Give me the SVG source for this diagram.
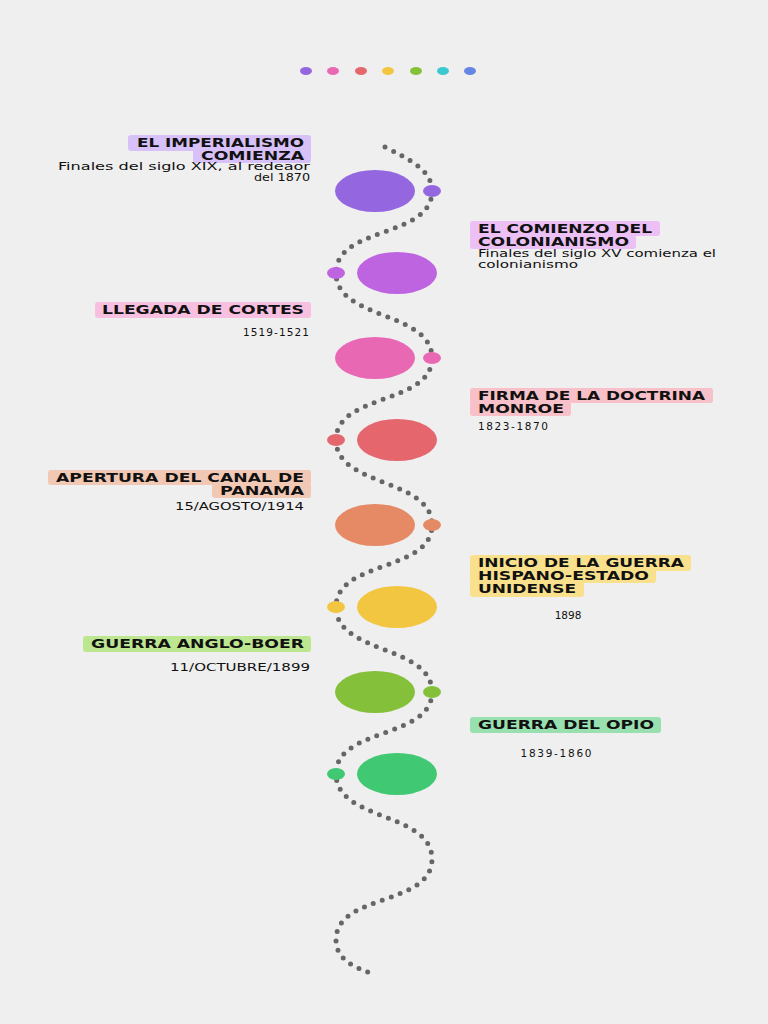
<svg xmlns="http://www.w3.org/2000/svg" width="768" height="1024" viewBox="0 0 768 1024">
<style>
.t{font-family:"DejaVu Sans",sans-serif;font-weight:bold;font-size:12.5px;fill:#111}
.s{font-family:"DejaVu Sans",sans-serif;font-size:11px;fill:#111}
.d{font-family:"DejaVu Sans",sans-serif;font-size:10.5px;fill:#111}
.r{text-anchor:end}
.m{text-anchor:middle}
</style>
<rect width="768" height="1024" fill="#efefef"/>
<g id="dots">
<ellipse cx="306" cy="71" rx="6" ry="4" fill="#9466e0"/>
<ellipse cx="333" cy="71" rx="6" ry="4" fill="#e868b4"/>
<ellipse cx="361" cy="71" rx="6" ry="4" fill="#e6666e"/>
<ellipse cx="388" cy="71" rx="6" ry="4" fill="#f2c640"/>
<ellipse cx="416" cy="71" rx="6" ry="4" fill="#84c03a"/>
<ellipse cx="443" cy="71" rx="6" ry="4" fill="#3cc8d0"/>
<ellipse cx="470" cy="71" rx="6" ry="4" fill="#6686e6"/>
</g>
<g id="connectors">
<path d="M385,147 C410,160 432,170 432,191 C432,238 336,226 336,273 C336,320 432,311 432,358 C432,405 336,393 336,440 C336,487 432,478 432,525 C432,572 336,560 336,607 C336,654 432,645 432,692 C432,739 336,727 336,774 C336,821 432,812 432,859 C432,906 336,893 336,940 C336,960 355,968 376,975" fill="none" stroke="#666" stroke-width="5" stroke-linecap="round" stroke-dasharray="0 9.5"/>
</g>
<g id="n1"><ellipse cx="375" cy="191" rx="40" ry="21" fill="#9466e0"/><ellipse cx="432" cy="191" rx="9" ry="6" fill="#9466e0"/>
<rect x="128" y="135" width="183" height="16" rx="3" fill="#d8c0f8"/><rect x="193" y="148" width="118" height="15" rx="3" fill="#d8c0f8"/>
<text class="t r" x="304" y="147" textLength="167" lengthAdjust="spacingAndGlyphs">EL IMPERIALISMO</text><text class="t r" x="304" y="160" textLength="103" lengthAdjust="spacingAndGlyphs">COMIENZA</text>
<text class="s r" x="310" y="170" textLength="252" lengthAdjust="spacingAndGlyphs">Finales del siglo XIX, al redeaor</text><text class="s r" x="310" y="181" textLength="56" lengthAdjust="spacingAndGlyphs">del 1870</text></g>
<g id="n2"><ellipse cx="397" cy="273" rx="40" ry="21" fill="#bf64e0"/><ellipse cx="336" cy="273" rx="9" ry="6" fill="#bf64e0"/>
<rect x="470" y="221" width="190" height="15" rx="3" fill="#ecc0f5"/><rect x="470" y="234" width="166" height="15" rx="3" fill="#ecc0f5"/>
<text class="t" x="478" y="233" textLength="174" lengthAdjust="spacingAndGlyphs">EL COMIENZO DEL</text><text class="t" x="478" y="246" textLength="151" lengthAdjust="spacingAndGlyphs">COLONIANISMO</text>
<text class="s" x="478" y="257" textLength="238" lengthAdjust="spacingAndGlyphs">Finales del siglo XV comienza el</text><text class="s" x="478" y="268" textLength="100" lengthAdjust="spacingAndGlyphs">colonianismo</text></g>
<g id="n3"><ellipse cx="375" cy="358" rx="40" ry="21" fill="#e868b4"/><ellipse cx="432" cy="358" rx="9" ry="6" fill="#e868b4"/>
<rect x="95" y="302" width="216" height="16" rx="3" fill="#f8c0e0"/>
<text class="t r" x="304" y="314" textLength="202" lengthAdjust="spacingAndGlyphs">LLEGADA DE CORTES</text>
<text class="d r" x="309" y="336" textLength="66">1519-1521</text></g>
<g id="n4"><ellipse cx="397" cy="440" rx="40" ry="21" fill="#e6666e"/><ellipse cx="336" cy="440" rx="9" ry="6" fill="#e6666e"/>
<rect x="470" y="388" width="243" height="15" rx="3" fill="#f8c0c8"/><rect x="470" y="401" width="101" height="15" rx="3" fill="#f8c0c8"/>
<text class="t" x="478" y="400" textLength="227" lengthAdjust="spacingAndGlyphs">FIRMA DE LA DOCTRINA</text><text class="t" x="478" y="413" textLength="86" lengthAdjust="spacingAndGlyphs">MONROE</text>
<text class="d" x="478" y="430" textLength="70">1823-1870</text></g>
<g id="n5"><ellipse cx="375" cy="525" rx="40" ry="21" fill="#e68a66"/><ellipse cx="432" cy="525" rx="9" ry="6" fill="#e68a66"/>
<rect x="48" y="470" width="263" height="15" rx="3" fill="#f0c8b4"/><rect x="212" y="483" width="99" height="15" rx="3" fill="#f0c8b4"/>
<text class="t r" x="304" y="482" textLength="248" lengthAdjust="spacingAndGlyphs">APERTURA DEL CANAL DE</text><text class="t r" x="304" y="495" textLength="84" lengthAdjust="spacingAndGlyphs">PANAMA</text>
<text class="d r" x="304" y="510" textLength="129" lengthAdjust="spacingAndGlyphs">15/AGOSTO/1914</text></g>
<g id="n6"><ellipse cx="397" cy="607" rx="40" ry="21" fill="#f2c640"/><ellipse cx="336" cy="607" rx="9" ry="6" fill="#f2c640"/>
<rect x="470" y="555" width="221" height="16" rx="3" fill="#f8e08c"/><rect x="470" y="568" width="186" height="15" rx="3" fill="#f8e08c"/><rect x="470" y="581" width="114" height="16" rx="3" fill="#f8e08c"/>
<text class="t" x="478" y="567" textLength="206" lengthAdjust="spacingAndGlyphs">INICIO DE LA GUERRA</text><text class="t" x="478" y="580" textLength="171" lengthAdjust="spacingAndGlyphs">HISPANO-ESTADO</text><text class="t" x="478" y="593" textLength="98" lengthAdjust="spacingAndGlyphs">UNIDENSE</text>
<text class="d m" x="568" y="619">1898</text></g>
<g id="n7"><ellipse cx="375" cy="692" rx="40" ry="21" fill="#84c03a"/><ellipse cx="432" cy="692" rx="9" ry="6" fill="#84c03a"/>
<rect x="83" y="636" width="228" height="16" rx="3" fill="#bce690"/>
<text class="t r" x="304" y="648" textLength="213" lengthAdjust="spacingAndGlyphs">GUERRA ANGLO-BOER</text>
<text class="d r" x="310" y="671" textLength="140" lengthAdjust="spacingAndGlyphs">11/OCTUBRE/1899</text></g>
<g id="n8"><ellipse cx="397" cy="774" rx="40" ry="21" fill="#40c872"/><ellipse cx="336" cy="774" rx="9" ry="6" fill="#40c872"/>
<rect x="470" y="717" width="191" height="16" rx="3" fill="#98e0b0"/>
<text class="t" x="478" y="729" textLength="176" lengthAdjust="spacingAndGlyphs">GUERRA DEL OPIO</text>
<text class="d m" x="556" y="757" textLength="71">1839-1860</text></g>
</svg>
